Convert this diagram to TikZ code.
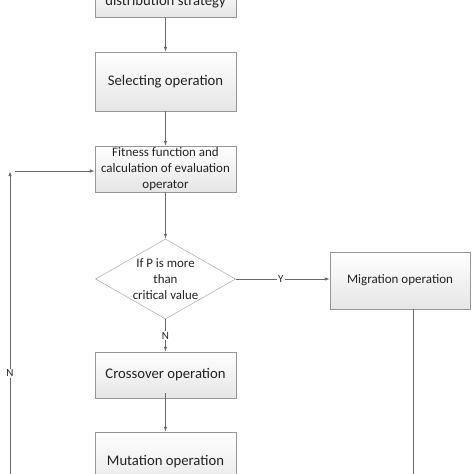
\documentclass[tikz,border=0pt]{standalone}
\usepackage{fontspec}
\setmainfont{Carlito}
\usetikzlibrary{shapes.geometric, arrows.meta, positioning}
\definecolor{edgegray}{RGB}{150,150,150}
\definecolor{linegray}{RGB}{105,105,105}
\definecolor{txtgray}{RGB}{35,35,35}
\tikzstyle{block}=[draw=edgegray,top color=white,bottom color=black!10,rectangle,minimum width=141pt,text=txtgray,font=\fontsize{14.7}{16}\selectfont]
\tikzstyle{decision}=[draw=edgegray,fill=white,diamond,minimum width=140pt,minimum height=80pt,inner sep=0pt,aspect=1.75,text=txtgray,align=center,font=\fontsize{12.9}{16}\selectfont]
\tikzstyle{lbl}=[fill=white,inner sep=1pt,text=txtgray,font=\fontsize{11}{12}\selectfont]
\tikzstyle{conn}=[draw=linegray,line width=0.9pt]

\begin{document}
\begin{tikzpicture}[x=1pt,y=-1pt,>={Latex[length=5pt,width=3.5pt]}]
    \clip (0,0) rectangle (474,474);
    \node[block, minimum height=32pt] (strat) at (165.5,1.5) {distribution strategy};
    \node[block, below of=strat, node distance=80pt, minimum height=59pt] (sel) {Selecting operation};
    \node[block, below of=sel, node distance=87.5pt, minimum height=46pt, inner sep=1pt, align=center, font=\fontsize{13}{16}\selectfont] (fit) {Fitness function and\\calculation of evaluation\\operator};
    \node[decision, below of=fit, node distance=110pt] (dec) {If P is more\\than\\critical value};
    \node[block, below of=dec, node distance=96pt, minimum height=46pt] (cross) {Crossover operation};
    \node[block, below of=cross, node distance=86.5pt, minimum height=59pt] (mut) {Mutation operation};
    \node[block, minimum width=140pt, minimum height=57pt, font=\fontsize{13}{15}\selectfont] (mig) at (400,280.5) {Migration operation};
    \coordinate (migdown) at (413,480);
    \coordinate (fbbot) at (10,480);
    \coordinate (fbtop) at (10,171);
    \draw[conn,->] (strat) -- (sel);
    \draw[conn,->] (sel) -- (fit);
    \draw[conn,->] (fit) -- (dec);
    \draw[conn,->] (dec) -- node[lbl] {N} (cross);
    \draw[conn,->] (dec.east) -- node[lbl, pos=0.48] {Y} (dec.east -| mig.west);
    \draw[conn,->] ([yshift=5pt]cross.south) -- (mut);
    \draw[conn] (migdown |- mig.south) -- (migdown);
    \draw[conn,->] (fbbot) -- node[lbl, pos=0.346] {N} (fbtop);
    \draw[conn,->] ([xshift=5pt]fbtop) -- (fbtop -| fit.west);
\end{tikzpicture}
\end{document}
